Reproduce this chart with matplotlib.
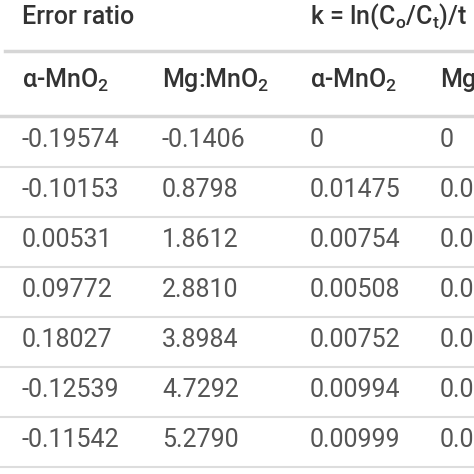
import matplotlib
matplotlib.use("Agg")
import matplotlib.pyplot as plt

plt.rcParams['font.family'] = ['Roboto', 'DejaVu Sans']

group_headers = ["Error ratio", r"k = ln(C$_\mathregular{o}$/C$_\mathregular{t}$)/t"]
col_headers = [r"α-MnO$_\mathregular{2}$", r"Mg:MnO$_\mathregular{2}$", r"α-MnO$_\mathregular{2}$", r"Mg:MnO$_\mathregular{2}$"]
err_a = ["-0.19574", "-0.10153", "0.00531", "0.09772", "0.18027", "-0.12539", "-0.11542"]
err_mg = ["-0.1406", "0.8798", "1.8612", "2.8810", "3.8984", "4.7292", "5.2790"]
k_a = ["0", "0.01475", "0.00754", "0.00508", "0.00752", "0.00994", "0.00999"]
k_mg = ["0", "0.0", "0.0", "0.0", "0.0", "0.0", "0.0"]

W = H = 474
fig = plt.figure(figsize=(4.74, 4.74), dpi=100)
ax = fig.add_axes([0, 0, 1, 1])
ax.set_xlim(0, W); ax.set_ylim(H, 0); ax.axis('off')

xs = [22, 162, 310, 440]
hc = '#333333'; dc = '#555555'; lc = '#dddddd'
fs = 18
ax.text(xs[0], 17, group_headers[0], fontsize=fs, color=hc, weight='medium', va='center')
ax.text(xs[2], 17, group_headers[1], fontsize=fs, color=hc, weight='medium', va='center')
ax.plot([5, W], [51, 51], color='#d6d6d6', lw=2.5)
for x, t in zip(xs, col_headers):
    ax.text(x, 80, t, fontsize=fs, color=hc, weight='medium', va='center')
ax.plot([0, W], [116, 116], color='#d6d6d6', lw=2.5)
cols = [err_a, err_mg, k_a, k_mg]
for i in range(len(err_a)):
    y = 140 + 50 * i
    for x, c in zip(xs, cols):
        ax.text(x, y, c[i], fontsize=fs, color=dc, va='center')
    ax.plot([0, W], [y + 27, y + 27], color=lc, lw=1.5)

fig.savefig("out.png", dpi=100)
